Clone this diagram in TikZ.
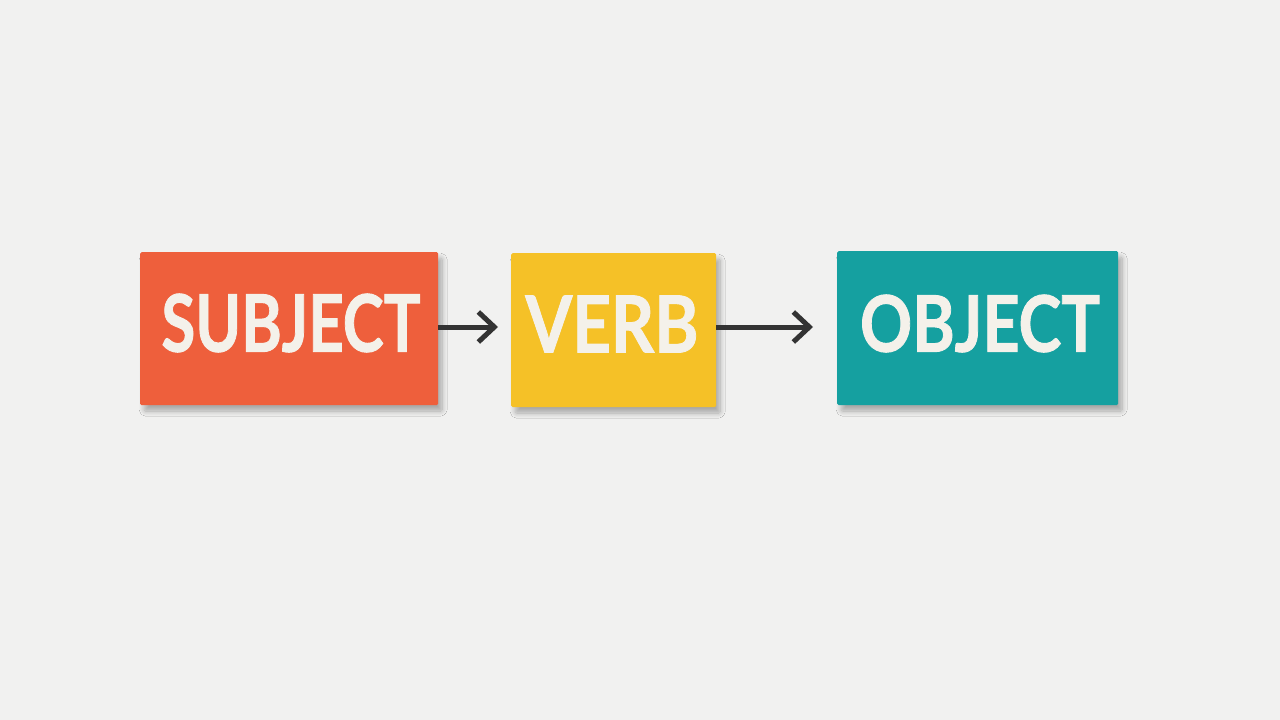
\documentclass[tikz,border=0pt]{standalone}
\usepackage{fontspec}
\setmainfont{Lato}[BoldFeatures={FakeBold=1.2}]
\usetikzlibrary{arrows.meta,shadows.blur}
\definecolor{bg}{HTML}{F1F1F0}
\definecolor{subj}{HTML}{EE5F3C}
\definecolor{verb}{HTML}{F5C127}
\definecolor{obj}{HTML}{15A0A0}
\definecolor{txt}{HTML}{F4F1EA}
\definecolor{arr}{HTML}{333333}
\tikzset{
  tile/.style={draw=none, inner sep=0pt, anchor=north west, rounded corners=1.5pt,
    blur shadow={shadow xshift=4pt, shadow yshift=-6pt, shadow blur steps=12, shadow blur radius=5pt, shadow opacity=30}},
  lbl/.style={text=txt, inner sep=0pt, font=\bfseries},
  conn/.style={draw=arr, line width=5pt, -{Straight Barb[length=16pt, width=30pt, line width=5pt]}}
}
\begin{document}
\begin{tikzpicture}[x=1pt,y=-1pt]
\fill[bg] (0,0) rectangle (1280,720);
\useasboundingbox (0,0) rectangle (1280,720);
\node[tile, fill=subj, minimum width=298pt, minimum height=153pt] (s) at (140,252) {};
\node[tile, fill=verb, minimum width=205pt, minimum height=154pt] (v) at (511,253) {};
\node[tile, fill=obj, minimum width=281pt, minimum height=154pt] (o) at (837,251) {};
\node[lbl] (st) at (291,323) {\resizebox{259pt}{58pt}{SUBJECT}};
\node[lbl] (vt) at (612,324) {\resizebox{173pt}{57pt}{VERB}};
\node[lbl] (ot) at (980,323.5) {\resizebox{240pt}{57pt}{OBJECT}};
\coordinate (a1s) at (s.east |- 0,327);
\coordinate (a1e) at (498,327);
\coordinate (a2s) at (v.east |- 0,327);
\coordinate (a2e) at (813,327);
\draw[conn] (a1s) -- (a1e);
\draw[conn] (a2s) -- (a2e);
\end{tikzpicture}
\end{document}
